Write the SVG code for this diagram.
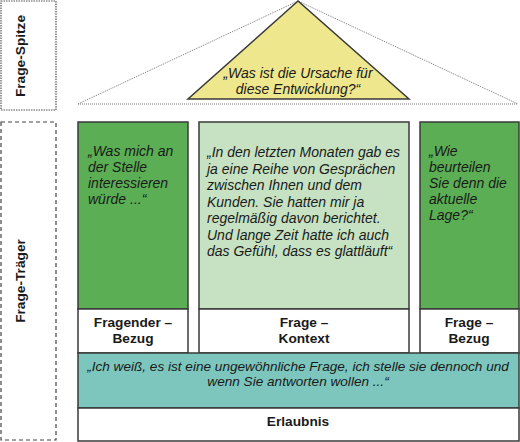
<svg xmlns="http://www.w3.org/2000/svg" width="520" height="442" viewBox="0 0 520 442">
<style>
.box{stroke:#3a3a3a;stroke-width:1.5}
.it{font-family:"Liberation Sans",Arial,sans-serif;font-size:14px;font-style:italic;fill:#1a1a1a}
.it2{font-family:"Liberation Sans",Arial,sans-serif;font-size:13.6px;font-style:italic;fill:#1a1a1a}
.bd{font-family:"Liberation Sans",Arial,sans-serif;font-size:13.7px;font-weight:bold;fill:#1a1a1a}
.dot{fill:none;stroke:#777;stroke-width:1;stroke-dasharray:1 1}
</style>
<rect width="520" height="442" fill="#fff"/>
<g id="side-spitze">
<rect x="1" y="1" width="55" height="109" fill="none" stroke="#555" stroke-width="1.2" stroke-dasharray="1.5 1"/>
<text class="bd" transform="translate(24.5,56) rotate(-90)" text-anchor="middle" font-size="14">Frage-Spitze</text>
</g>
<g id="side-traeger">
<rect x="1" y="122" width="55" height="318" fill="none" stroke="#444" stroke-width="1.2" stroke-dasharray="4 3"/>
<text class="bd" transform="translate(24.5,281) rotate(-90)" text-anchor="middle" font-size="14">Frage-Träger</text>
</g>
<g id="connectors">
<polyline class="dot" points="78,104 298,1 518,104"/>
<line class="dot" x1="78" y1="104" x2="518" y2="104"/>
</g>
<g id="spitze">
<polygon class="box" points="298,1 188,99 409,99" fill="#EFE78E"/>
<text class="it" text-anchor="middle"><tspan x="298" y="78">„Was ist die Ursache für</tspan><tspan x="298" y="94">diese Entwicklung?“</tspan></text>
</g>
<g id="fragender">
<rect class="box" x="78" y="122" width="110" height="187" fill="#5BAE54"/>
<text class="it"><tspan x="88" y="156">„Was mich an</tspan><tspan x="88" y="172">der Stelle</tspan><tspan x="88" y="188">interessieren</tspan><tspan x="88" y="204">würde ...“</tspan></text>
<rect class="box" x="78" y="309" width="110" height="44" fill="#fff"/>
<text class="bd" text-anchor="middle"><tspan x="133" y="327">Fragender –</tspan><tspan x="133" y="343">Bezug</tspan></text>
</g>
<g id="kontext">
<rect class="box" x="199" y="122" width="210" height="187" fill="#C6E2C2"/>
<text class="it"><tspan x="207" y="157">„In den letzten Monaten gab es</tspan><tspan x="207" y="173.5">ja eine Reihe von Gesprächen</tspan><tspan x="207" y="190">zwischen Ihnen und dem</tspan><tspan x="207" y="206.5">Kunden. Sie hatten mir ja</tspan><tspan x="207" y="223">regelmäßig davon berichtet.</tspan><tspan x="207" y="239.5">Und lange Zeit hatte ich auch</tspan><tspan x="207" y="256">das Gefühl, dass es glattläuft“</tspan></text>
<rect class="box" x="199" y="309" width="210" height="44" fill="#fff"/>
<text class="bd" text-anchor="middle"><tspan x="304" y="327">Frage –</tspan><tspan x="304" y="343">Kontext</tspan></text>
</g>
<g id="bezug">
<rect class="box" x="420" y="122" width="99" height="187" fill="#5BAE54"/>
<text class="it"><tspan x="429" y="156">„Wie</tspan><tspan x="429" y="172">beurteilen</tspan><tspan x="429" y="188">Sie denn die</tspan><tspan x="429" y="204">aktuelle</tspan><tspan x="429" y="220">Lage?“</tspan></text>
<rect class="box" x="420" y="309" width="99" height="44" fill="#fff"/>
<text class="bd" text-anchor="middle"><tspan x="469" y="327">Frage –</tspan><tspan x="469" y="343">Bezug</tspan></text>
</g>
<g id="erlaubnis">
<rect class="box" x="78" y="353" width="441" height="55" fill="#7CC6BE"/>
<text class="it2" text-anchor="middle"><tspan x="298" y="371">„Ich weiß, es ist eine ungewöhnliche Frage, ich stelle sie dennoch und</tspan><tspan x="298" y="386">wenn Sie antworten wollen ...“</tspan></text>
<rect class="box" x="78" y="408" width="441" height="33" fill="#fff"/>
<text class="bd" x="298" y="426" text-anchor="middle">Erlaubnis</text>
</g>
</svg>
